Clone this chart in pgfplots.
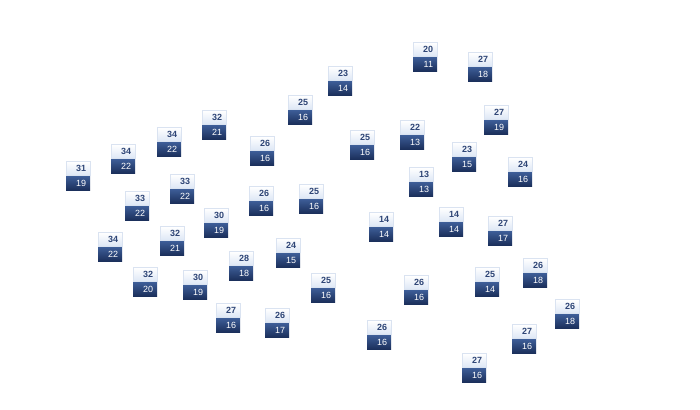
\documentclass[border=0pt]{standalone}
\usepackage{pgfplots}
\pgfplotsset{compat=1.18}
\usepackage{pgfplotstable}
\usetikzlibrary{shadings}
\usepackage{fontspec}
\setmainfont{Liberation Sans}
\definecolor{hiB}{HTML}{DCE6F5}
\definecolor{hiD}{HTML}{DAE3F1}
\definecolor{hiT}{HTML}{2E4576}
\definecolor{loA}{HTML}{3D5D97}
\definecolor{loB}{HTML}{1B2F5B}
\tikzset{
  hibox/.style={rectangle, minimum width=24bp, minimum height=14bp, inner sep=0pt,
    text width=16bp, align=right, top color=white, bottom color=hiB, draw=hiD,
    line width=0.6bp, text=hiT, font=\fontsize{9}{9}\selectfont\bfseries},
  lobox/.style={rectangle, minimum width=24bp, minimum height=14bp, inner sep=0pt,
    text width=16bp, align=right, top color=loA, bottom color=loB, draw=none,
    text=white, font=\fontsize{9}{9}\selectfont},
}
\pgfplotstableread{
x y hi lo
425 57 20 11
480 67 27 18
340 81 23 14
300 110 25 16
496 120 27 19
214 125 32 21
169 142 34 22
412 135 22 13
362 145 25 16
262 151 26 16
123 159 34 22
464 157 23 15
520 172 24 16
78 176 31 19
421 182 13 13
182 189 33 22
261 201 26 16
311 199 25 16
137 206 33 22
216 223 30 19
381 227 14 14
451 222 14 14
500 231 27 17
172 241 32 21
110 247 34 22
288 253 24 15
241 266 28 18
535 273 26 18
145 282 32 20
195 285 30 19
323 288 25 16
416 290 26 16
487 282 25 14
567 314 26 18
228 318 27 16
277 323 26 17
379 335 26 16
524 339 27 16
474 368 27 16
}\stations
\begin{document}
\begin{tikzpicture}
\useasboundingbox (0,0) rectangle (700bp,410bp);
\fill[white] (0,0) rectangle (700bp,410bp);
\begin{axis}[
  at={(0,0)}, anchor=south west,
  scale only axis, width=700bp, height=410bp,
  xmin=0, xmax=700, ymin=0, ymax=410, y dir=reverse,
  hide axis, clip=false,
]
\addplot[scatter, only marks, mark=text, text mark={},
  visualization depends on={\thisrow{hi}\as\hival},
  visualization depends on={\thisrow{lo}\as\loval},
  scatter/@pre marker code/.code={},
  scatter/@post marker code/.code={
    \node[hibox, anchor=south] at (0,0) {\pgfmathprintnumber[assume math mode=true, int detect]{\hival}};
    \node[lobox, anchor=north] at (0,0) {\pgfmathprintnumber[assume math mode=true, int detect]{\loval}};
  },
] table[x=x, y=y] {\stations};
\end{axis}
\end{tikzpicture}
\end{document}
